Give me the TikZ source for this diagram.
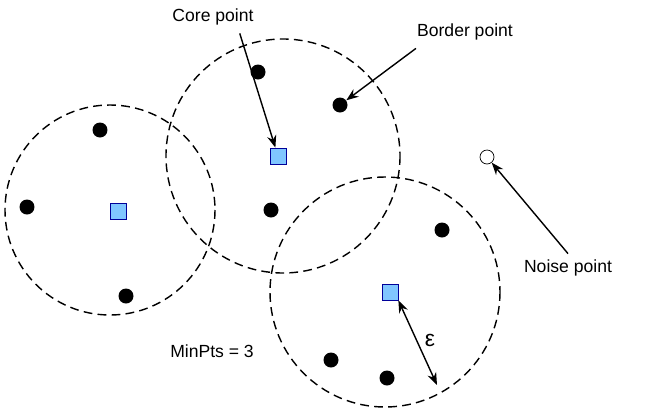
\documentclass[tikz,border=0pt]{standalone}
\usepackage{fontspec}
\setmainfont{Liberation Sans}
\usetikzlibrary{arrows.meta}
\begin{document}
\begin{tikzpicture}[
    x=0.02cm, y=-0.02cm,
    region/.style={draw, thick, dashed, dash pattern=on 5pt off 3pt},
    pt/.style={circle, fill=black, inner sep=0pt, minimum size=0.3cm},
    core/.style={rectangle, draw=blue!60!black, fill=blue!45!cyan!50, inner sep=0pt, minimum size=0.32cm},
    noise/.style={circle, draw=black, fill=white, inner sep=0pt, minimum size=0.28cm},
    lbl/.style={font=\fontsize{10}{12}\selectfont},
    arrow/.style={-{Stealth[length=7pt]}, thick}
]
\useasboundingbox (0,0) rectangle (649,413);

% Neighbourhoods
\draw[region] (110,210) circle (105);
\draw[region] (283,156) circle (117);
\draw[region] (385,292) circle (115);

% Points
\node[pt] (p1) at (100,130) {};
\node[pt] (p2) at (27,207) {};
\node[pt] (p3) at (126,296) {};
\node[pt] (p4) at (258,72) {};
\node[pt] (border) at (340,105) {};
\node[pt] (p6) at (271,210) {};
\node[pt] (p7) at (442,230) {};
\node[pt] (p8) at (331,360) {};
\node[pt] (p9) at (387,378) {};
\node[core] (c1) at (118,211) {};
\node[core] (c2) at (278,156) {};
\node[core] (c3) at (390,292) {};
\node[noise] (noisept) at (487,157) {};

% Labels
\node[lbl] (corelbl) at (213,17) {Core point};
\node[lbl] (borderlbl) at (465,32) {Border point};
\node[lbl] (noiselbl) at (568,268) {Noise point};
\node[lbl] (minpts) at (212,351) {MinPts = 3};
\node[lbl, font=\fontsize{13}{14}\selectfont] (eps) at (430,340) {ε};
\coordinate (epsend) at (437,385);

% Arrows
\draw[arrow] (corelbl.south east) ++(-20,2) -- (c2);
\draw[arrow] (borderlbl.south west) ++(5,2) -- (border);
\draw[arrow] (noiselbl.north) -- (noisept);
\draw[{Stealth[length=7pt]}-{Stealth[length=7pt]}, thick] (c3.south east) -- (epsend);
\end{tikzpicture}
\end{document}
